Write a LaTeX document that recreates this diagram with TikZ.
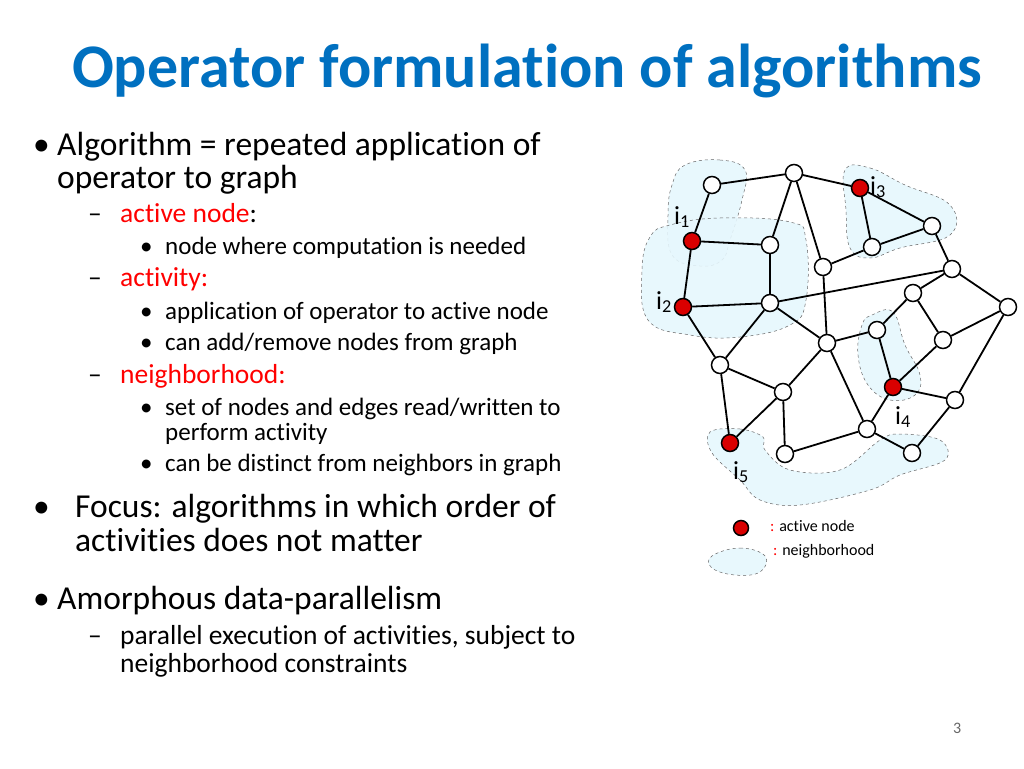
\documentclass[tikz,border=0pt]{standalone}
\usepackage{fontspec}
\setmainfont[Ligatures={NoCommon}]{Carlito}
\begin{document}
\begin{tikzpicture}[x=1pt,y=-1pt,
  tx/.style={anchor=base west,inner sep=0pt},
  l1/.style={tx,font=\fontsize{33.5}{35}\selectfont},
  l2/.style={tx,font=\fontsize{27.5}{29}\selectfont},
  l3/.style={tx,font=\fontsize{25}{27}\selectfont},
  vtx/.style={circle,draw,line width=1.5pt,fill=white,minimum size=17pt,inner sep=0pt},
  act/.style={vtx,fill=red!85!black},
  nb/.style={draw=black!60,dashed,line width=0.5pt,fill=cyan!10,fill opacity=0.9},
  lab/.style={font=\fontsize{26}{26}\selectfont,inner sep=0pt},
  ed/.style={line width=1.8pt}]
\useasboundingbox (0,0) rectangle (1024,768);
\definecolor{tblue}{RGB}{0,112,192}
\node[anchor=base,inner sep=0pt,font=\fontsize{62}{64}\selectfont\bfseries,text=tblue] (title) at (527,87) {Operator formulation of algorithms};
% text
\node[l1] (b1) at (33,155) {•};
\node[l1] (t1) at (57,155) {Algorithm = repeated application of};
\node[l1] (t1b) at (57,188) {operator to graph};
\node[l2] (d1) at (88,222) {–};
\node[l2,text=red] (t2) at (120,222) {active node\textcolor{black}{:}};
\node[l3] (d2) at (140,254) {•};
\node[l3] (t3) at (165,254) {node where computation is needed};
\node[l2] (d3) at (88,286) {–};
\node[l2,text=red] (t4) at (120,286) {activity:};
\node[l3] (d4) at (140,319) {•};
\node[l3] (t5) at (165,319) {application of operator to active node};
\node[l3] (d5) at (140,350) {•};
\node[l3] (t6) at (165,350) {can add/remove nodes from graph};
\node[l2] (d6) at (88,383) {–};
\node[l2,text=red] (t7) at (120,383) {neighborhood:};
\node[l3] (d7) at (140,415) {•};
\node[l3] (t8) at (165,415) {set of nodes and edges read/written to};
\node[l3] (t8b) at (165,440) {perform activity};
\node[l3] (d8) at (140,471) {•};
\node[l3] (t9) at (165,471) {can be distinct from neighbors in graph};
\node[l1] (b2) at (33,517) {•};
\node[l1] (t10) at (75,517) {Focus: algorithms in which order of};
\node[l1] (t10b) at (75,551) {activities does not matter};
\node[l1] (b3) at (33,609) {•};
\node[l1] (t11) at (57,609) {Amorphous data-parallelism};
\node[l2] (d9) at (88,644) {–};
\node[l2] (t12) at (120,644) {parallel execution of activities, subject to};
\node[l2] (t12b) at (120,672) {neighborhood constraints};
\node[tx,font=\fontsize{16}{16}\selectfont,text=black!60] (pg) at (953,733) {3};
% neighborhoods
\draw[nb] plot[smooth cycle,tension=0.7] coordinates {(685,165) (720,160) (745,170) (742,200) (730,240) (722,260) (700,266) (672,255) (668,215) (672,185)};
\draw[nb] plot[smooth cycle,tension=0.7] coordinates {(670,225) (720,218) (790,222) (806,240) (806,300) (790,325) (740,337) (690,335) (648,320) (642,270) (650,237)};
\draw[nb] plot[smooth cycle,tension=0.7] coordinates {(845,170) (870,168) (905,185) (950,205) (950,235) (900,248) (870,258) (850,248) (846,210)};
\draw[nb] plot[smooth cycle,tension=0.7] coordinates {(872,315) (893,312) (905,345) (920,375) (915,395) (890,400) (868,385) (858,355) (862,325)};
\draw[nb] plot[smooth cycle,tension=0.6] coordinates {(710,432) (740,429) (763,437) (765,450) (790,470) (840,470) (880,440) (900,434) (940,440) (945,460) (900,475) (870,490) (800,505) (760,500) (740,480) (712,453)};
% nodes
\node[vtx] (a) at (712,185) {};
\node[vtx] (b) at (794,173) {};
\node[act] (i3) at (860,188) {};
\node[vtx] (c) at (932,226) {};
\node[vtx] (d) at (872,247) {};
\node[act] (i1) at (692,241) {};
\node[vtx] (e) at (770,245) {};
\node[vtx] (f) at (823,267) {};
\node[vtx] (g) at (952,269) {};
\node[vtx] (h) at (913,293) {};
\node[act] (i2) at (683,307) {};
\node[vtx] (j) at (770,303) {};
\node[vtx] (k) at (1008,307) {};
\node[vtx] (l) at (877,330) {};
\node[vtx] (m) at (827,343) {};
\node[vtx] (n) at (943,340) {};
\node[vtx] (o) at (720,365) {};
\node[act] (i4) at (893,387) {};
\node[vtx] (p) at (783,392) {};
\node[vtx] (q) at (955,400) {};
\node[vtx] (r) at (867,429) {};
\node[act] (i5) at (730,443) {};
\node[vtx] (s) at (785,454) {};
\node[vtx] (t) at (912,453) {};
\foreach \u/\v in {a/b,b/i3,a/i1,i1/e,i1/i2,e/j,e/b,b/f,i3/d,i3/c,d/c,d/f,c/g,f/m,j/g,i2/j,i2/o,j/o,j/m,g/h,g/k,h/l,h/n,n/k,n/i4,l/m,l/i4,m/p,m/r,o/p,o/i5,p/i5,p/s,s/r,i4/r,i4/q,q/k,r/t,t/q}
  \draw[ed] (\u) -- (\v);
% labels
\node[lab] (li1) at (682,217) {i\textsubscript{1}};
\node[lab] (li2) at (664,302) {i\textsubscript{2}};
\node[lab] (li3) at (878,187) {i\textsubscript{3}};
\node[lab] (li4) at (903,417) {i\textsubscript{4}};
\node[lab] (li5) at (741,472) {i\textsubscript{5}};
% legend
\node[act,minimum size=15pt] (la) at (741,528) {};
\node[tx,font=\fontsize{16}{16}\selectfont] (lt1) at (770,531) {\textcolor{red}{:} active node};
\draw[nb] plot[smooth cycle,tension=0.7] coordinates {(712,556) (740,548) (765,556) (760,572) (735,575) (712,568)};
\node[tx,font=\fontsize{16}{16}\selectfont] (lt2) at (773,555) {\textcolor{red}{:} neighborhood};
\end{tikzpicture}
\end{document}
